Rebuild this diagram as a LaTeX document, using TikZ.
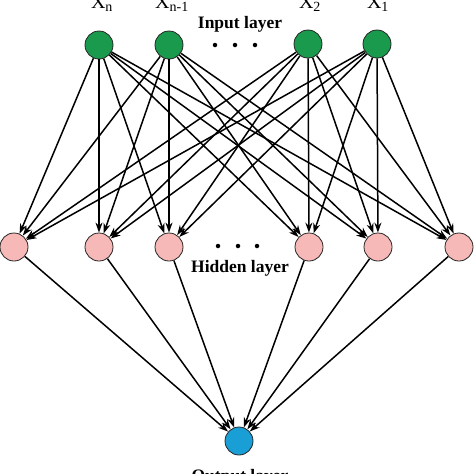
\documentclass[tikz,border=0pt]{standalone}
\usepackage{fontspec}
\setmainfont{Liberation Serif}
\usetikzlibrary{arrows.meta}
\definecolor{ingreen}{HTML}{1A9A4C}
\definecolor{hidpink}{HTML}{F7B8B8}
\definecolor{outblue}{HTML}{1A9ED6}
\tikzset{
  neuron/.style={circle,draw=black!85,line width=0.8pt,minimum size=28pt,inner sep=0pt},
  inneuron/.style={neuron,fill=ingreen},
  hidneuron/.style={neuron,fill=hidpink},
  outneuron/.style={neuron,fill=outblue},
  conn/.style={line width=1.5pt,-{Stealth[length=10pt,width=7pt]}},
  layerlabel/.style={font=\fontsize{17.5}{20}\selectfont\bfseries},
  xlabel/.style={font=\fontsize{20}{22}\selectfont,anchor=base},
  dot/.style={circle,fill=black,inner sep=0pt,minimum size=4.5pt}
}
\begin{document}
\begin{tikzpicture}[x=1pt,y=-1pt]
\useasboundingbox (0,0) rectangle (474,474);
\clip (0,0) rectangle (474,474);
% input layer
\node[inneuron] (i1) at (99,45) {};
\node[inneuron] (i2) at (169,45) {};
\node[inneuron] (i3) at (308,44) {};
\node[inneuron] (i4) at (377,44) {};
% hidden layer
\node[hidneuron] (h1) at (14,247) {};
\node[hidneuron] (h2) at (99,247) {};
\node[hidneuron] (h3) at (169,247) {};
\node[hidneuron] (h4) at (309,247) {};
\node[hidneuron] (h5) at (378,247) {};
\node[hidneuron] (h6) at (459,247) {};
% output
\node[outneuron] (o) at (239,441) {};
% labels
\node[xlabel] (x1) at (102,8) {X\textsubscript{n}};
\node[xlabel] (x2) at (172,8) {X\textsubscript{n-1}};
\node[xlabel] (x3) at (310,8) {X\textsubscript{2}};
\node[xlabel] (x4) at (378,8) {X\textsubscript{1}};
\node[layerlabel] (il) at (240,24) {Input layer};
\node[layerlabel] (hl) at (240,268) {Hidden layer};
\node[layerlabel,anchor=north] (ol) at (240,466) {Output layer};
% dots
\node[dot] (d1) at (215,45) {};
\node[dot] (d2) at (235,45) {};
\node[dot] (d3) at (255,45) {};
\node[dot] (e1) at (218,246) {};
\node[dot] (e2) at (238,246) {};
\node[dot] (e3) at (257,246) {};
% connections
\foreach \i in {i1,i2,i3,i4}{
  \foreach \h in {h1,h2,h3,h4,h5,h6}{
    \draw[conn] (\i) -- (\h);
  }
}
\foreach \h in {h1,h2,h3,h4,h5,h6}{
  \draw[conn] (\h) -- (o);
}
\end{tikzpicture}
\end{document}
